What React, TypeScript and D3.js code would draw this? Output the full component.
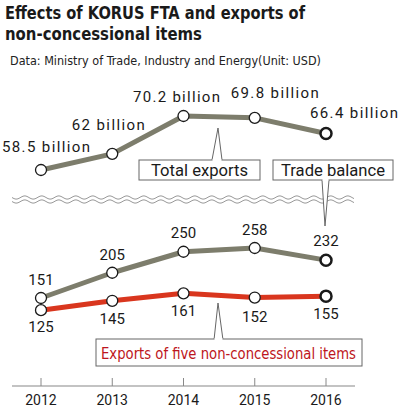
import { line, range, scaleLinear, scalePoint } from "d3";

const years = ["2012", "2013", "2014", "2015", "2016"];
const totalExports = [58.5, 62, 70.2, 69.8, 66.4];
const totalLabels = ["58.5 billion", "62 billion", "70.2 billion", "69.8 billion", "66.4 billion"];
const tradeBalance = [151, 205, 250, 258, 232];
const fiveItems = [125, 145, 161, 152, 155];

const W = 400;
const H = 409;
const font = "Roboto, 'Liberation Sans', Arial, sans-serif";
const condensed = "'DejaVu Sans Condensed', 'Liberation Sans Narrow', sans-serif";

export default function App() {
  const x = scalePoint<string>().domain(years).range([41, 326]);
  const yTop = scaleLinear().domain([58.5, 70.2]).range([170, 116]);
  const yLow = scaleLinear().domain([151, 258]).range([298, 248]);

  const topLine = line<number>()
    .x((_, i) => x(years[i]) as number)
    .y(d => yTop(d));
  const lowLine = line<number>()
    .x((_, i) => x(years[i]) as number)
    .y(d => yLow(d));

  // decorative break mark between the two panels
  const wave = (y0: number) =>
    line<number>()
      .x(d => d)
      .y(d => y0 + 1.6 * Math.sin((d - 12) / 17 * 2 * Math.PI))(range(12, 355, 1));

  const topDx = [5, -4, -7, 20, 28];
  const topDy = [-18, -24, -14, -20, -15.5];
  const topW = [88, 73, 87, 88, 88];
  const balDy = [-13, -13, -14, -13, -14];
  const fiveDy = [22, 23, 23, 24, 23];

  return (
    <svg width={W} height={H} style={{ position: "absolute", left: 0, top: 0, background: "#fff" }}>
      <text x={5} y={19} fontFamily={condensed} fontWeight="bold" fontSize={18.5} fill="#1a1a1a"
        textLength={300} lengthAdjust="spacingAndGlyphs">Effects of KORUS FTA and exports of</text>
      <text x={5} y={40} fontFamily={condensed} fontWeight="bold" fontSize={18.5} fill="#1a1a1a"
        textLength={197} lengthAdjust="spacingAndGlyphs">non-concessional items</text>
      <text x={10} y={65} fontFamily={condensed} fontSize={12.5} fill="#222"
        textLength={311} lengthAdjust="spacingAndGlyphs">Data: Ministry of Trade, Industry and Energy(Unit: USD)</text>

      {/* callout: Total exports */}
      <path d="M212,160 L218,128 L222,160" fill="#fff" stroke="#666" strokeWidth={1} />
      <rect x={139} y={160} width={121} height={20} fill="#fff" stroke="#666" strokeWidth={1} />
      <line x1={212.5} y1={160} x2={221.5} y2={160} stroke="#fff" strokeWidth={2} />
      <text x={199.5} y={176} textAnchor="middle" fontFamily={font} fontSize={16} fill="#1a1a1a"
        textLength={97} lengthAdjust="spacingAndGlyphs">Total exports</text>

      {/* wave break */}
      <path d={wave(197.5) ?? ""} fill="none" stroke="#999" strokeWidth={1} />
      <path d={wave(201.5) ?? ""} fill="none" stroke="#999" strokeWidth={1} />

      {/* callout: Trade balance */}
      <path d="M322,180 L325,226 L329,180" fill="#fff" stroke="#666" strokeWidth={1} />
      <rect x={273} y={160} width={120} height={20} fill="#fff" stroke="#666" strokeWidth={1} />
      <line x1={322.5} y1={180} x2={328.5} y2={180} stroke="#fff" strokeWidth={2} />
      <text x={333} y={176} textAnchor="middle" fontFamily={font} fontSize={16} fill="#1a1a1a"
        textLength={104} lengthAdjust="spacingAndGlyphs">Trade balance</text>

      {/* callout: five items */}
      <path d="M214,340 L218,303 L223,340" fill="#fff" stroke="#666" strokeWidth={1} />
      <rect x={96} y={339} width={266} height={27} fill="#fff" stroke="#666" strokeWidth={1} />
      <line x1={214.5} y1={339} x2={222.5} y2={339} stroke="#fff" strokeWidth={2} />
      <text x={101} y={359} fontFamily={condensed} fontSize={16.5} fill="#bd1520"
        textLength={255} lengthAdjust="spacingAndGlyphs">Exports of five non-concessional items</text>

      {/* lines */}
      <path d={topLine(totalExports) ?? ""} fill="none" stroke="#7d7d6c" strokeWidth={5} strokeLinejoin="round" />
      <path d={lowLine(tradeBalance) ?? ""} fill="none" stroke="#7d7d6c" strokeWidth={5} strokeLinejoin="round" />
      <path d={lowLine(fiveItems) ?? ""} fill="none" stroke="#d9361e" strokeWidth={5} strokeLinejoin="round" />

      {totalExports.map((v, i) => (
        <g key={"t" + i}>
          <circle cx={x(years[i])} cy={yTop(v)} r={5.5} fill="#fff" stroke="#1a1a1a" strokeWidth={i === 4 ? 2.5 : 1.3} />
          <text x={(x(years[i]) as number) + topDx[i]} y={yTop(v) + topDy[i]} textAnchor="middle"
            fontFamily={font} fontSize={15} fill="#1a1a1a"
            textLength={topW[i]} lengthAdjust="spacing">{totalLabels[i]}</text>
        </g>
      ))}
      {tradeBalance.map((v, i) => (
        <g key={"b" + i}>
          <circle cx={x(years[i])} cy={yLow(v)} r={5.5} fill="#fff" stroke="#1a1a1a" strokeWidth={i === 4 ? 2.5 : 1.3} />
          <text x={x(years[i])} y={yLow(v) + balDy[i]} textAnchor="middle"
            fontFamily={font} fontSize={15} fill="#1a1a1a">{v}</text>
        </g>
      ))}
      {fiveItems.map((v, i) => (
        <g key={"f" + i}>
          <circle cx={x(years[i])} cy={yLow(v)} r={5.5} fill="#fff" stroke="#1a1a1a" strokeWidth={i === 4 ? 2.5 : 1.3} />
          <text x={x(years[i])} y={yLow(v) + fiveDy[i]} textAnchor="middle"
            fontFamily={font} fontSize={15} fill="#1a1a1a">{v}</text>
        </g>
      ))}

      {/* x axis */}
      <line x1={12} x2={355} y1={386} y2={386} stroke="#888" strokeWidth={1.2} />
      {years.map(yr => (
        <g key={yr}>
          <line x1={x(yr)} x2={x(yr)} y1={378} y2={386} stroke="#888" strokeWidth={1} />
          <text x={x(yr)} y={405} textAnchor="middle" fontFamily={font} fontSize={14} fill="#1a1a1a">{yr}</text>
        </g>
      ))}
    </svg>
  );
}
